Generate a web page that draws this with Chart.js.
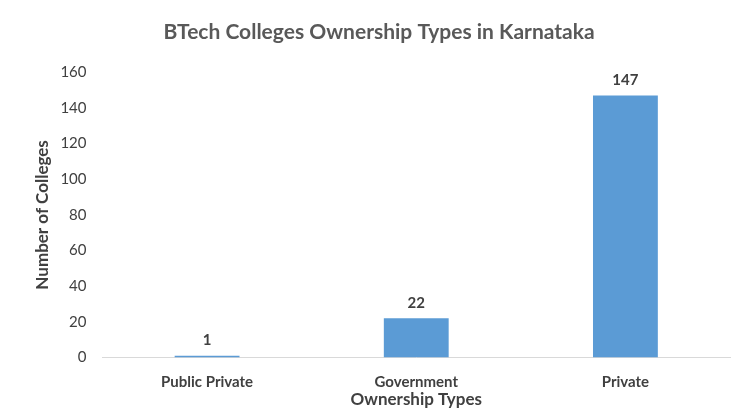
<!DOCTYPE html>
<html><head><meta charset="utf-8">
<script src="https://cdn.jsdelivr.net/npm/chart.js@4"></script>
<style>html,body{margin:0;padding:0;background:#fff}#w{width:750px;height:410px}</style>
</head><body><div id="w"><canvas id="c"></canvas></div>
<script>
const categories = ["Public Private", "Government", "Private"];
const values = [1, 22, 147];
const yTicks = [0, 20, 40, 60, 80, 100, 120, 140, 160];

const labelPlugin = {
  id: 'lbl',
  afterDatasetsDraw(chart) {
    const ctx = chart.ctx;
    const meta = chart.getDatasetMeta(0);
    ctx.save();
    ctx.font = 'bold 15px Lato';
    ctx.fillStyle = '#404040';
    ctx.textAlign = 'center';
    ctx.textBaseline = 'bottom';
    meta.data.forEach((b, i) => ctx.fillText(String(values[i]), b.x, b.y - 8));
    ctx.restore();
  }
};

new Chart(document.getElementById('c'), {
  type: 'bar',
  data: { labels: categories, datasets: [{ data: values, backgroundColor: '#5B9BD5', categoryPercentage: 1, barPercentage: 0.31 }] },
  options: {
    responsive: true, maintainAspectRatio: false, animation: false,
    layout: { padding: { left: 28, right: 20, top: 0, bottom: 0 } },
    plugins: {
      legend: { display: false }, tooltip: { enabled: false },
      title: { display: true, text: 'BTech Colleges Ownership Types in Karnataka', color: '#595959',
        font: { family: 'Lato', size: 21, weight: 'bold' }, padding: { top: 20, bottom: 27 } }
    },
    scales: {
      x: {
        grid: { display: false }, border: { color: '#d9d9d9' },
        ticks: { color: '#404040', font: { family: 'Lato', size: 15, weight: 'bold' }, padding: 8 },
        title: { display: true, text: 'Ownership Types', color: '#404040', font: { family: 'Lato', size: 17, weight: 'bold' }, padding: { top: -10, bottom: 0 } }
      },
      y: {
        min: 0, max: 160,
        afterBuildTicks(s) { s.ticks = yTicks.map(v => ({ value: v })); },
        grid: { display: false }, border: { display: false },
        ticks: { color: '#404040', font: { family: 'Lato', size: 15 }, padding: 8 },
        title: { display: true, text: 'Number of Colleges', color: '#404040', font: { family: 'Lato', size: 17, weight: 'bold' }, padding: { bottom: 0 } }
      }
    }
  },
  plugins: [labelPlugin]
});
</script></body></html>
